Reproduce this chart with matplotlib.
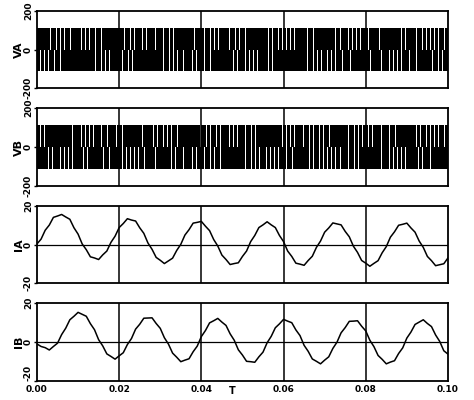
import numpy as np
from matplotlib import pyplot as plt

# time axis of the record (s)
t_end = 0.10
xticks = [0.00, 0.02, 0.04, 0.06, 0.08, 0.10]
xtick_labels = ['0.00', '0.02', '0.04', '0.06', '0.08', '0.10']

# PWM phase voltages: level and on/off pattern per 0.5 ms bin
# '#' = pulse present in that half, '.' = gap
v_level = 112
bin_w = 0.0005
va_pos = ("######.##." "#.#.##.#.#" "#.#.#.##.#" "#.########" "##.##.#.##"
          "#.#.#.#.##" "#.##.#.###" "######.###" "#.##.#.#.#" "#.#.##.#.#"
          "#.########" "##.#.##.#." "#.#.#.#.##" "#.##.#####" "#####.#.##"
          "#.#.#.#.##" "#.##.#.###" "#######.#." "##.#.##.#." "#.#.#.##.#")
va_neg = ("#.#.#.##.#" "#.########" "########.#" "#.#.#.#.##" "#.##.#.###"
          "##########" "#.##.#.#.#" "#.#.#.#.##" "#.##.#####" "#####.#.##"
          "#.#.#.#.#." "##.#.#####" "########.#" "#.##.#.#.#" "#.#.#.##.#"
          "##.#######" "##.##.#.##" "#.#.#.#.##" "#.##.#####" "##.##.#.##")
vb_pos = ("#.#.######" "#######.#." "#.#.#.#.##" "#.##.#.#.#" "#.########"
          "#.##.#.#.#" "#.#.#.##.#" "#########." "##.#.##.#." "#.#.#.#.##"
          "#.##.#.##." "#########." "#.#.#.#.#." "##.#.##.#." "##.#######"
          "#.##.#.#.#" "#.#.#.#.##" "#.##.#####" "####.#.##." "#.#.#.##.#")
vb_neg = ("#####.#.##" "#.#.#.#.#." "##.#.#####" "##.##.#.##" "#.#.#.#.#."
          "##.##.#.##" "#####.#.##" "#.#.#.#.##" "#.##.#.##." "##########"
          "#.##.#.#.#" "#.#.#.#.##" "#.##.#####" "##.#.##.#." "#.#.#.#.##"
          "#.##.#.###" "#####.#.##" "#.#.#.#.#." "##.##.#.##" "#.########")

# phase currents sampled every 1 ms (A)
ia = [0.3, 2.8, 7.4, 10.1, 14.1, 14.8, 15.6, 14.3, 13.1, 8.7,
      5.4, 0.3, -2.7, -6.4, -7.0, -7.8, -5.4, -3.4, 1.1, 4.3,
      8.8, 10.9, 13.4, 12.7, 12.2, 8.7, 5.8, 0.8, -2.5, -6.7,
      -8.2, -9.9, -8.5, -7.1, -3.1, 0.1, 4.9, 7.7, 11.1, 11.5,
      12.0, 9.5, 7.2, 2.6, -0.8, -5.5, -7.8, -10.4, -9.9, -9.5,
      -6.2, -3.4, 1.5, 4.7, 8.8, 10.2, 11.8, 10.2, 8.8, 4.7,
      1.5, -3.4, -6.2, -9.7, -10.2, -10.8, -8.3, -6.1, -1.5, 1.8,
      6.4, 8.6, 11.2, 10.7, 10.2, 6.8, 4.0, -0.9, -4.1, -8.3,
      -9.7, -11.3, -9.8, -8.4, -4.3, -1.1, 3.8, 6.6, 10.0, 10.5,
      11.1, 8.6, 6.4, 1.8, -1.5, -6.2, -8.4, -11.0, -10.5, -10.0,
      -7.0]
ib = [-1.0, -2.3, -2.9, -4.1, -2.3, -0.6, 3.8, 7.1, 11.4, 13.2,
      15.2, 14.2, 13.2, 9.4, 6.3, 1.2, -2.0, -6.1, -7.4, -8.8,
      -7.1, -5.5, -1.3, 1.8, 6.6, 9.1, 12.2, 12.3, 12.4, 9.5,
      7.0, 2.2, -1.1, -5.7, -7.8, -10.1, -9.3, -8.6, -5.0, -2.1,
      2.8, 5.9, 9.8, 10.9, 12.1, 10.2, 8.5, 4.2, 0.9, -4.0,
      -6.7, -9.9, -10.1, -10.4, -7.6, -5.2, -0.4, 2.9, 7.3, 9.3,
      11.6, 10.7, 9.9, 6.2, 3.3, -1.7, -4.8, -8.7, -9.9, -11.2,
      -9.3, -7.6, -3.3, -0.1, 4.7, 7.4, 10.6, 10.7, 10.9, 8.1,
      5.7, 0.9, -2.4, -6.9, -8.9, -11.2, -10.3, -9.6, -5.9, -3.0,
      2.0, 5.1, 9.0, 10.2, 11.4, 9.5, 7.9, 3.6, 0.3, -4.5,
      -6.2]


def runs(pattern):
    # turn a '#'/'.' string into (start, width) spans for broken_barh
    spans = []
    i = 0
    while i < len(pattern):
        if pattern[i] == '#':
            j = i
            while j + 1 < len(pattern) and pattern[j + 1] == '#':
                j += 1
            x0 = max(0.0, (i - 0.28) * bin_w)
            x1 = min(t_end, (j + 1.28) * bin_w)
            spans.append((x0, x1 - x0))
            i = j + 1
        else:
            i += 1
    return spans


fig = plt.figure(figsize=(4.74, 4.0), dpi=100)
boxes = [[0.078, 0.780, 0.867, 0.1925],
         [0.078, 0.535, 0.867, 0.195],
         [0.078, 0.2925, 0.867, 0.1925],
         [0.078, 0.0475, 0.867, 0.195]]
axes = [fig.add_axes(b) for b in boxes]

tick_font = dict(fontsize=6.5, fontweight='bold')

# voltage panels
for ax, pos, neg, name in [(axes[0], va_pos, va_neg, 'VA'),
                           (axes[1], vb_pos, vb_neg, 'VB')]:
    ax.broken_barh(runs(pos), (0, v_level), facecolors='black')
    ax.broken_barh(runs(neg), (-v_level, v_level), facecolors='black')
    ax.set_ylim(-200, 200)
    ax.set_yticks([-200, 0, 200])
    ax.set_yticklabels(['-200', '0', '200'], rotation=90, va='center', **tick_font)
    ax.set_ylabel(name, fontsize=8, fontweight='bold', labelpad=0)

# current panels
t_i = np.linspace(0, t_end, len(ia))
for ax, vals, name in [(axes[2], ia, 'IA'), (axes[3], ib, 'IB')]:
    ax.plot(t_i, vals, color='black', lw=1.1)
    ax.axhline(0, color='black', lw=0.9)
    ax.set_ylim(-20, 20)
    ax.set_yticks([-20, 0, 20])
    ax.set_yticklabels(['-20', '0', '20'], rotation=90, va='center', **tick_font)
    ax.set_ylabel(name, fontsize=8, fontweight='bold', labelpad=0)

# keep the lowest "-20" clear of the "0.00" time label
axes[3].get_yticklabels()[0].set_va('bottom')

for k, ax in enumerate(axes):
    ax.set_xlim(0, t_end)
    for xv in xticks[1:-1]:
        ax.axvline(xv, color='black', lw=1.1, zorder=3)
    for s in ax.spines.values():
        s.set_linewidth(1.3)
    ax.tick_params(axis='y', length=2, width=1, pad=1)
    ax.tick_params(axis='x', length=0, pad=3)
    ax.set_xticks(xticks)
    if k == 3:
        ax.set_xticklabels(xtick_labels, **tick_font)
    else:
        ax.set_xticklabels([])

fig.text(0.49, 0.015, 'T', fontsize=7, fontweight='bold', ha='center')

plt.savefig('out.png', dpi=100)
